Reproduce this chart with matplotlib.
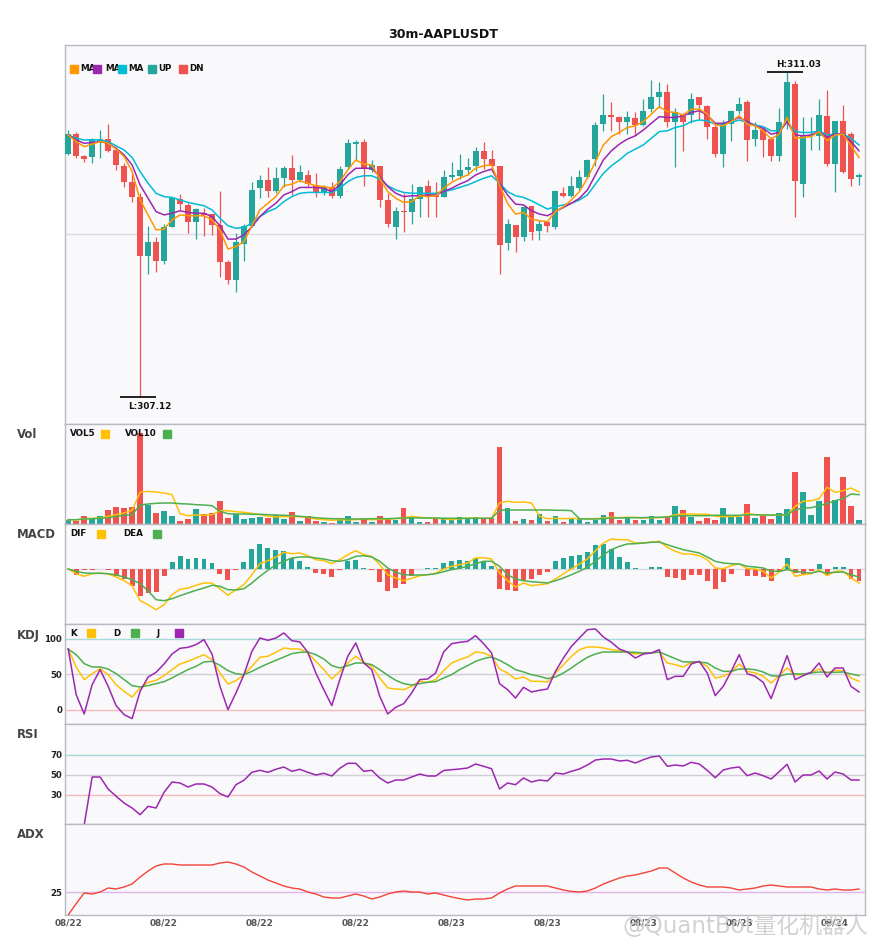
import numpy as np
import matplotlib.pyplot as plt
from matplotlib.transforms import Bbox, TransformedBbox

# ---- data (30m candles, 100 bars) ----
opens = [310.04, 310.28, 310.02, 310.01, 310.19, 310.22, 310.09, 309.90, 309.71, 309.53,
         308.82, 308.99, 308.76, 309.17, 309.50, 309.43, 309.23, 309.33, 309.32, 309.19,
         308.74, 308.53, 308.96, 309.18, 309.63, 309.73, 309.60, 309.75, 309.87, 309.73,
         309.79, 309.67, 309.59, 309.64, 309.54, 309.88, 310.16, 310.19, 309.85, 309.90,
         309.49, 309.17, 309.36, 309.34, 309.50, 309.66, 309.55, 309.53, 309.77, 309.78,
         309.85, 309.90, 310.08, 309.98, 309.90, 308.97, 309.19, 309.05, 309.42, 309.12,
         309.22, 309.17, 309.57, 309.54, 309.63, 309.76, 309.98, 310.40, 310.51, 310.49,
         310.42, 310.47, 310.39, 310.58, 310.72, 310.79, 310.42, 310.51, 310.51, 310.72,
         310.62, 310.36, 310.04, 310.40, 310.56, 310.66, 310.22, 310.34, 310.22, 310.02,
         310.42, 310.88, 309.68, 310.26, 310.26, 310.50, 309.92, 310.44, 310.28, 309.76]
highs = [310.33, 310.30, 310.03, 310.23, 310.33, 310.40, 310.12, 309.93, 309.81, 309.57,
         309.18, 309.05, 309.20, 309.52, 309.56, 309.45, 309.39, 309.39, 309.32, 309.60,
         308.77, 309.09, 309.20, 309.71, 309.79, 309.88, 309.88, 309.90, 310.03, 309.91,
         309.85, 309.81, 309.67, 309.70, 309.90, 310.22, 310.21, 310.22, 309.97, 309.90,
         309.57, 309.41, 309.57, 309.68, 309.66, 309.73, 309.70, 309.85, 309.94, 310.04,
         309.99, 310.12, 310.18, 310.09, 309.90, 309.26, 309.19, 309.42, 309.42, 309.25,
         309.23, 309.61, 309.65, 309.78, 309.85, 309.98, 310.42, 310.76, 310.66, 310.50,
         310.56, 310.54, 310.70, 310.93, 310.91, 310.88, 310.59, 310.53, 310.77, 310.73,
         310.63, 310.39, 310.45, 310.57, 310.72, 310.69, 310.42, 310.37, 310.25, 310.59,
         311.03, 310.92, 310.49, 310.48, 310.70, 310.81, 310.44, 310.63, 310.31, 309.81]
lows = [310.03, 309.99, 309.95, 309.93, 309.99, 310.07, 309.85, 309.65, 309.47, 307.12,
        308.60, 308.62, 308.72, 309.16, 309.37, 309.09, 309.02, 309.06, 309.07, 308.56,
        308.48, 308.39, 308.76, 309.17, 309.51, 309.53, 309.57, 309.65, 309.55, 309.71,
        309.65, 309.52, 309.55, 309.51, 309.51, 309.86, 309.97, 309.66, 309.82, 309.40,
        309.16, 309.02, 309.10, 309.20, 309.29, 309.29, 309.29, 309.52, 309.73, 309.74,
        309.79, 309.84, 309.86, 309.88, 308.60, 308.89, 308.87, 309.00, 309.01, 309.01,
        309.10, 309.14, 309.52, 309.52, 309.61, 309.75, 309.90, 310.32, 310.32, 310.28,
        310.28, 310.27, 310.38, 310.54, 310.59, 310.36, 309.88, 310.08, 310.41, 310.45,
        310.22, 310.00, 309.88, 310.20, 310.52, 309.96, 310.14, 310.00, 309.96, 309.96,
        310.34, 309.29, 309.53, 310.09, 310.09, 309.90, 309.59, 309.81, 309.66, 309.67]
closes = [310.28, 310.02, 309.98, 310.22, 310.22, 310.08, 309.91, 309.71, 309.53, 308.82,
          308.99, 308.76, 309.17, 309.51, 309.44, 309.23, 309.38, 309.31, 309.19, 308.74,
          308.53, 308.99, 309.18, 309.61, 309.73, 309.60, 309.75, 309.87, 309.73, 309.83,
          309.68, 309.58, 309.65, 309.54, 309.86, 310.17, 310.18, 309.87, 309.91, 309.49,
          309.20, 309.36, 309.34, 309.50, 309.65, 309.54, 309.53, 309.77, 309.79, 309.85,
          309.89, 310.08, 309.98, 309.90, 308.95, 309.20, 309.04, 309.41, 309.11, 309.20,
          309.18, 309.60, 309.54, 309.66, 309.77, 309.97, 310.39, 310.51, 310.49, 310.42,
          310.49, 310.39, 310.56, 310.72, 310.79, 310.42, 310.54, 310.43, 310.70, 310.63,
          310.37, 310.04, 310.40, 310.56, 310.64, 310.21, 310.33, 310.21, 310.02, 310.42,
          310.90, 309.72, 310.26, 310.27, 310.51, 309.92, 310.44, 309.82, 309.74, 309.79]

ma5 = [310.27, 310.19, 310.13, 310.16, 310.19, 310.17, 310.10, 310.01, 309.83, 309.49,
       309.31, 309.13, 309.14, 309.25, 309.31, 309.30, 309.30, 309.30, 309.25, 309.13,
       308.90, 308.93, 308.99, 309.18, 309.37, 309.45, 309.53, 309.66, 309.68, 309.72,
       309.69, 309.66, 309.65, 309.63, 309.71, 309.85, 309.97, 309.92, 309.91, 309.75,
       309.59, 309.51, 309.46, 309.47, 309.54, 309.53, 309.54, 309.63, 309.70, 309.75,
       309.79, 309.87, 309.90, 309.91, 309.67, 309.45, 309.32, 309.34, 309.26, 309.24,
       309.23, 309.35, 309.41, 309.49, 309.59, 309.75, 309.95, 310.15, 310.25, 310.30,
       310.36, 310.38, 310.43, 310.52, 310.61, 310.55, 310.54, 310.51, 310.58, 310.58,
       310.52, 310.39, 310.38, 310.43, 310.50, 310.40, 310.38, 310.32, 310.22, 310.28,
       310.48, 310.23, 310.24, 310.25, 310.31, 310.20, 310.27, 310.28, 310.14, 310.00]
ma10 = [310.27, 310.21, 310.17, 310.18, 310.19, 310.17, 310.11, 310.03, 309.91, 309.67,
        309.51, 309.35, 309.31, 309.33, 309.36, 309.34, 309.33, 309.33, 309.29, 309.18,
        309.02, 309.02, 309.07, 309.17, 309.29, 309.38, 309.45, 309.55, 309.59, 309.64,
        309.64, 309.64, 309.63, 309.59, 309.67, 309.79, 309.87, 309.87, 309.87, 309.77,
        309.65, 309.57, 309.53, 309.54, 309.54, 309.55, 309.55, 309.59, 309.63, 309.68,
        309.72, 309.79, 309.83, 309.86, 309.69, 309.55, 309.44, 309.43, 309.36, 309.32,
        309.30, 309.35, 309.40, 309.45, 309.51, 309.61, 309.79, 309.97, 310.08, 310.16,
        310.22, 310.26, 310.33, 310.41, 310.49, 310.48, 310.48, 310.50, 310.54, 310.56,
        310.51, 310.41, 310.41, 310.44, 310.48, 310.43, 310.38, 310.35, 310.28, 310.30,
        310.43, 310.27, 310.26, 310.27, 310.31, 310.24, 310.28, 310.28, 310.19, 310.08]
ma20 = [310.27, 310.23, 310.21, 310.21, 310.21, 310.19, 310.14, 310.09, 310.00, 309.83,
        309.69, 309.57, 309.53, 309.52, 309.49, 309.46, 309.44, 309.42, 309.37, 309.27,
        309.18, 309.15, 309.16, 309.21, 309.29, 309.35, 309.39, 309.47, 309.53, 309.57,
        309.58, 309.58, 309.58, 309.58, 309.63, 309.71, 309.76, 309.78, 309.78, 309.74,
        309.66, 309.61, 309.58, 309.57, 309.57, 309.57, 309.57, 309.59, 309.61, 309.64,
        309.67, 309.71, 309.75, 309.78, 309.69, 309.59, 309.54, 309.52, 309.48, 309.43,
        309.38, 309.41, 309.43, 309.45, 309.49, 309.55, 309.68, 309.81, 309.90, 309.97,
        310.05, 310.10, 310.15, 310.23, 310.31, 310.32, 310.36, 310.38, 310.43, 310.45,
        310.44, 310.40, 310.40, 310.42, 310.45, 310.42, 310.39, 310.37, 310.32, 310.32,
        310.43, 310.31, 310.30, 310.30, 310.32, 310.27, 310.28, 310.28, 310.23, 310.15]

volume = [4.3, 3.3, 8.3, 5.0, 8.3, 14.3, 17.3, 16.3, 17.3, 91.0,
          19.3, 11.3, 13.3, 8.3, 3.3, 5.3, 15.3, 10.3, 11.3, 23.3,
          6.3, 10.3, 5.3, 6.3, 7.3, 6.3, 8.7, 5.3, 12.3, 3.3,
          8.3, 3.3, 2.3, 1.3, 4.3, 8.3, 2.3, 6.3, 2.3, 8.3,
          6.3, 4.3, 16.3, 7.3, 2.3, 2.3, 6.3, 5.3, 3.7, 7.3,
          5.0, 7.3, 5.0, 5.7, 77.3, 16.3, 3.3, 5.3, 4.3, 10.3,
          3.3, 8.3, 2.3, 5.3, 5.3, 2.3, 4.3, 9.3, 12.3, 4.3,
          7.3, 4.3, 4.3, 8.3, 4.3, 8.3, 18.3, 14.3, 7.3, 3.3,
          6.3, 4.3, 16.3, 7.3, 7.3, 20.3, 6.3, 8.3, 5.3, 11.3,
          15.3, 52.3, 32.3, 9.3, 23.3, 67.3, 24.3, 47.3, 18.3, 4.3]
vol5 = [4.3, 4.0, 5.0, 5.7, 6.0, 7.7, 9.3, 11.0, 13.7, 31.7,
        32.7, 32.0, 31.0, 29.3, 10.3, 8.3, 9.0, 8.7, 9.3, 13.3,
        13.3, 12.3, 11.7, 10.7, 9.3, 7.7, 7.0, 7.3, 7.7, 7.3,
        6.7, 5.0, 4.3, 3.7, 4.3, 4.0, 4.3, 5.0, 4.3, 4.7,
        5.0, 5.3, 6.0, 7.7, 6.7, 6.0, 5.7, 5.2, 4.3, 5.3,
        5.7, 6.0, 5.7, 5.7, 21.0, 22.7, 21.7, 22.0, 21.0, 7.7,
        5.3, 5.7, 5.3, 5.7, 5.3, 5.3, 5.3, 6.0, 6.7, 6.3,
        6.7, 6.7, 6.0, 6.3, 6.3, 7.0, 9.3, 10.0, 10.0, 9.7,
        9.7, 7.7, 7.3, 7.7, 7.7, 10.7, 9.3, 8.7, 8.7, 9.0,
        9.3, 17.7, 22.7, 23.3, 25.3, 36.7, 31.7, 33.3, 36.0, 32.0]
vol10 = [4.3, 4.3, 5.0, 5.3, 5.7, 6.3, 7.7, 8.7, 9.3, 19.0,
         20.0, 20.7, 21.0, 21.0, 20.3, 20.0, 19.3, 19.0, 18.3, 12.7,
         10.3, 10.0, 10.0, 9.7, 9.7, 9.3, 9.0, 8.7, 8.3, 7.7,
         7.0, 6.3, 5.7, 5.3, 5.3, 5.0, 5.0, 5.0, 5.3, 5.3,
         5.3, 5.7, 6.0, 6.0, 6.0, 6.0, 6.0, 5.8, 5.7, 5.7,
         5.7, 5.7, 5.7, 5.7, 13.7, 14.0, 14.0, 14.0, 14.0, 14.0,
         14.0, 13.7, 13.7, 13.3, 5.3, 5.0, 5.0, 5.3, 6.0, 6.0,
         6.3, 6.3, 6.3, 6.7, 6.7, 7.0, 8.0, 8.3, 8.3, 8.3,
         8.3, 8.7, 8.7, 8.7, 8.7, 9.3, 9.3, 9.0, 9.0, 9.0,
         9.3, 14.3, 16.0, 16.3, 18.3, 20.3, 23.3, 25.3, 30.0, 29.3]

dif = [0, -4.7, -7.3, -4.7, -4.0, -5.0, -8.0, -11.7, -16.7, -31.7,
       -35.7, -40.7, -35.7, -25.7, -20.3, -19.0, -16.3, -14.0, -14.0, -19.7,
       -26.3, -20.7, -15.7, -5.7, 5.3, 8.3, 12.0, 16.7, 15.3, 16.0,
       13.3, 9.3, 8.3, 5.3, 9.3, 14.3, 18.3, 14.3, 12.7, 4.3,
       -5.7, -9.0, -11.7, -9.3, -6.7, -5.7, -4.3, 0.0, 2.7, 4.3,
       6.0, 11.0, 11.3, 10.0, -4.0, -11.7, -18.0, -14.0, -16.7, -15.7,
       -14.7, -10.0, -4.7, 0.0, 5.0, 10.0, 18.3, 26.0, 30.0, 29.3,
       29.3, 26.0, 26.0, 27.0, 27.7, 21.7, 17.7, 15.0, 15.0, 13.3,
       9.3, 1.0, 0.3, 3.3, 5.3, 0.3, 0.0, -2.3, -9.0, -3.0,
       5.0, -7.3, -5.7, -4.7, -0.7, -6.7, -2.3, -2.3, -9.0, -14.0]
dea = [0, -2.3, -4.0, -4.3, -4.3, -4.7, -6.0, -8.0, -10.7, -14.7,
       -21.7, -30.7, -31.7, -29.7, -26.7, -24.0, -21.3, -19.0, -16.3, -17.3,
       -20.7, -21.0, -19.7, -14.0, -7.3, -1.3, 4.3, 7.7, 11.0, 12.0,
       12.0, 11.0, 10.0, 8.3, 7.7, 9.3, 12.7, 13.3, 12.0, 7.7,
       1.0, -3.3, -5.7, -6.0, -6.0, -5.7, -4.7, -2.7, -0.7, 1.0,
       2.7, 5.3, 7.7, 7.7, 2.7, -5.7, -10.0, -11.7, -12.7, -13.3,
       -14.0, -11.7, -9.0, -5.7, -2.3, 1.7, 7.7, 14.3, 19.3, 22.7,
       25.0, 25.3, 26.0, 26.7, 27.0, 24.3, 21.7, 19.3, 17.7, 16.0,
       12.0, 7.7, 6.0, 5.3, 5.0, 2.7, 2.0, 1.0, -2.3, -2.3,
       -0.7, -2.3, -3.3, -4.0, -2.3, -4.0, -3.3, -3.0, -5.7, -8.0]
macd_hist = [0, -5.7, -1.0, -1.3, 0, -1.3, -6.7, -10.0, -16.7, -27.3,
             -24.0, -22.7, -7.3, 7.3, 13.3, 10.3, 11.3, 10.3, 6.3, -4.7,
             -11.3, -1.3, 7.3, 20.3, 25.3, 21.3, 19.3, 18.3, 11.3, 8.3,
             2.3, -3.7, -4.7, -7.7, -0.7, 8.3, 9.3, 1.3, -1.3, -12.7,
             -21.7, -18.7, -14.7, -7.3, 0, 1.3, 1.3, 6.3, 8.3, 9.3,
             8.3, 11.3, 8.3, 3.3, -19.7, -20.7, -21.7, -10.7, -9.7, -5.7,
             -2.7, 8.3, 11.3, 13.3, 14.3, 17.3, 24.3, 25.3, 20.3, 12.3,
             7.3, 1.3, 0, 2.3, 2.3, -7.7, -8.7, -10.7, -5.7, -5.7,
             -11.7, -19.7, -12.7, -4.7, 0, -6.7, -6.7, -7.7, -11.7, -2.7,
             11.3, -3.7, -4.7, -1.7, 5.3, -5.7, 2.3, 2.3, -9.7, -11.7]

k_line = [85.8, 60.4, 42.5, 50.9, 58.0, 49.5, 35.4, 25.9, 17.9, 30.7,
          38.7, 41.5, 48.1, 56.6, 64.6, 68.4, 73.1, 77.8, 70.8, 51.9,
          36.3, 41.0, 49.5, 61.3, 74.1, 75.5, 81.1, 87.3, 85.8, 85.8,
          80.2, 68.4, 56.6, 43.4, 54.2, 66.0, 75.5, 67.0, 61.3, 44.8,
          30.7, 29.2, 28.3, 33.0, 40.1, 38.7, 42.5, 55.2, 66.0, 70.8,
          74.5, 81.6, 80.2, 75.5, 57.5, 51.9, 43.4, 46.2, 40.1, 40.1,
          39.2, 51.9, 63.7, 75.5, 84.9, 88.7, 88.7, 87.3, 84.9, 83.5,
          81.1, 78.8, 80.2, 80.2, 81.6, 66.0, 63.7, 60.4, 67.0, 67.5,
          61.3, 44.8, 47.2, 52.8, 64.6, 54.2, 51.9, 47.2, 37.7, 48.1,
          59.0, 49.5, 49.5, 51.9, 57.5, 51.9, 55.7, 55.2, 44.8, 40.1]
d_line = [85.8, 77.8, 65.1, 60.4, 60.4, 57.5, 50.9, 42.5, 34.0, 32.1,
          34.0, 36.8, 39.6, 44.8, 50.9, 56.6, 61.3, 67.5, 68.4, 62.7,
          55.2, 50.9, 49.5, 54.2, 59.9, 65.1, 69.8, 74.5, 79.2, 81.1,
          81.6, 77.8, 71.7, 62.3, 59.0, 62.3, 66.0, 66.0, 63.7, 56.6,
          48.6, 41.5, 36.8, 34.9, 36.8, 38.7, 39.6, 44.8, 49.5, 56.6,
          62.3, 68.4, 72.2, 74.5, 69.8, 63.7, 56.6, 53.3, 49.5, 47.2,
          43.9, 46.2, 51.9, 59.0, 67.0, 74.1, 78.8, 81.6, 81.6, 81.6,
          81.6, 81.1, 80.2, 80.2, 81.6, 76.9, 72.2, 67.5, 67.5, 67.5,
          66.0, 59.0, 54.2, 54.2, 57.5, 57.5, 56.6, 53.3, 48.1, 47.2,
          50.5, 50.5, 50.5, 51.9, 53.3, 52.8, 52.8, 53.3, 50.5, 48.1]
j_line = [85.8, 21.2, -6.1, 35.4, 56.6, 33.0, 5.7, -7.1, -12.7, 25.9,
          46.2, 52.8, 64.6, 78.8, 86.8, 88.2, 92.0, 99.1, 78.8, 33.0,
          0.0, 23.6, 49.5, 82.5, 101.4, 98.1, 101.4, 108.5, 97.6, 95.8,
          81.1, 51.9, 28.3, 5.7, 42.5, 75.5, 94.3, 66.0, 56.6, 18.9,
          -6.1, 3.3, 8.5, 23.6, 42.5, 43.4, 51.9, 81.6, 93.4, 95.3,
          96.7, 104.7, 93.4, 80.2, 36.8, 28.3, 16.5, 31.6, 25.0, 27.4,
          29.2, 54.2, 73.1, 89.6, 101.4, 113.2, 114.2, 102.8, 95.3, 85.8,
          81.6, 73.1, 78.8, 80.2, 84.9, 42.5, 47.2, 47.2, 64.6, 68.4,
          51.9, 19.8, 33.0, 54.2, 77.8, 50.9, 47.2, 38.7, 15.6, 46.2,
          76.4, 42.5, 48.1, 52.8, 66.0, 46.2, 59.0, 59.0, 33.0, 25.0]

rsi = [np.nan, np.nan, 0.0, 48.0, 48.0, 36.0, 28.7, 22.0, 17.0, 10.3,
       18.7, 17.0, 32.7, 43.0, 42.0, 38.0, 41.0, 41.0, 38.0, 31.3,
       28.0, 40.3, 44.7, 52.7, 54.7, 52.7, 55.7, 58.0, 53.7, 55.7,
       52.7, 50.0, 51.7, 49.0, 56.7, 61.7, 61.7, 53.7, 54.7, 47.0,
       42.0, 45.0, 45.0, 48.0, 51.0, 49.0, 49.0, 54.5, 55.3, 56.0,
       57.0, 61.0, 58.7, 56.3, 36.0, 42.0, 40.3, 47.0, 43.0, 45.0,
       44.0, 52.0, 51.0, 53.7, 56.0, 60.0, 65.0, 66.0, 66.0, 64.0,
       64.7, 62.0, 65.3, 68.0, 69.0, 58.7, 60.0, 59.0, 62.7, 61.0,
       54.7, 47.3, 55.0, 57.0, 58.0, 49.3, 52.0, 49.3, 46.0, 53.3,
       60.7, 43.0, 50.0, 50.0, 54.0, 46.0, 53.0, 51.0, 45.0, 45.0]

adx = [13.5, 19.2, 24.5, 24.0, 25.0, 27.0, 26.5, 27.5, 29.0, 32.5,
       35.5, 38.0, 39.0, 39.0, 38.5, 38.5, 38.5, 38.5, 38.5, 39.5,
       40.0, 39.0, 37.5, 35.0, 33.0, 31.0, 29.5, 28.0, 27.0, 26.5,
       25.0, 24.0, 22.5, 22.0, 22.0, 23.0, 24.0, 23.0, 21.5, 22.5,
       24.0, 25.0, 25.5, 25.0, 25.0, 24.0, 24.5, 23.5, 22.5, 21.7,
       21.0, 21.5, 21.5, 22.0, 24.5, 26.5, 28.0, 28.0, 28.0, 28.0,
       28.0, 27.0, 26.0, 25.3, 25.0, 25.5, 27.0, 29.0, 30.5, 32.0,
       33.0, 33.5, 34.5, 35.5, 37.0, 37.0, 34.5, 32.0, 30.0, 28.5,
       27.5, 27.5, 27.5, 27.0, 26.0, 26.5, 27.0, 28.0, 28.5, 28.0,
       27.5, 27.5, 27.5, 27.5, 26.5, 26.0, 26.5, 26.0, 26.0, 26.5]

tick_idx = [0, 12, 24, 36, 48, 60, 72, 84, 96]
tick_labels = ['08/22', '08/22', '08/22', '08/22', '08/23', '08/23', '08/23', '08/23', '08/24']

# ---- style ----
UP, DN = '#26a69a', '#ef5350'
BG = '#f9f9fc'
SPINE = '#b9b9c2'
C_MA5, C_MA10, C_MA20 = '#ff9800', '#9c27b0', '#00bcd4'
YEL, GRN, PUR = '#ffc107', '#4caf50', '#9c27b0'

plt.rcParams['font.family'] = ['DejaVu Sans', 'Noto Sans CJK SC']

o = np.array(opens); h = np.array(highs); l = np.array(lows); c = np.array(closes)
x = np.arange(len(c))
up = c >= o
cols = np.where(up, UP, DN)

fig = plt.figure(figsize=(8.85, 9.5), dpi=100)
W, H = 885.0, 950.0
left, width = 65 / W, 800 / W
bounds = [(45, 424), (424, 524), (524, 624), (624, 724), (724, 824), (824, 915)]
axes = []
for top, bot in bounds:
    ax = fig.add_axes([left, 1 - bot / H, width, (bot - top) / H])
    ax.set_facecolor(BG)
    for s in ax.spines.values():
        s.set_color(SPINE)
        s.set_linewidth(1.0)
    ax.set_xlim(-0.4, 99.75)
    ax.set_xticks([])
    ax.tick_params(axis='y', length=0, pad=2, labelsize=6.2, labelcolor='#222222')
    axes.append(ax)
ax_p, ax_v, ax_m, ax_k, ax_r, ax_a = axes

SQ_HALF = 0.0046   # half a legend square, in axes width fraction
VISIBLE = 0.0195   # the MA labels only show their first two letters


def legend(ax, items, yfrac, clip=False):
    for n, (label, tx, color, sx) in enumerate(items):
        t = ax.text(tx, yfrac, label, transform=ax.transAxes, fontsize=6.3, fontweight='bold',
                    va='center', ha='left', color='#111111', zorder=5)
        if clip and n + 1 < len(items):
            stop = min(items[n + 1][3] - SQ_HALF, tx + VISIBLE)
            t.set_clip_box(TransformedBbox(Bbox([[tx - 0.01, yfrac - 0.05],
                                                 [stop, yfrac + 0.05]]), ax.transAxes))
            t.set_clip_on(True)
        ax.plot([sx], [yfrac], marker='s', ms=5.3, color=color, transform=ax.transAxes,
                clip_on=False, zorder=6, linestyle='none')


# ---- price panel ----
ax_p.set_ylim(306.80, 311.35)
ax_p.set_yticks([])
ax_p.axhline(sum(ax_p.get_ylim()) / 2, color='#dcdce3', lw=1.0, zorder=0)
ax_p.vlines(x, l, h, colors=cols, lw=0.9, zorder=2)
body = np.maximum(np.abs(c - o), 0.008)
ax_p.bar(x, body, bottom=np.minimum(o, c), width=0.75, color=cols, zorder=3)
ax_p.plot(x, ma20, color=C_MA20, lw=1.1, zorder=4)
ax_p.plot(x, ma10, color=C_MA10, lw=1.1, zorder=4)
ax_p.plot(x, ma5, color=C_MA5, lw=1.1, zorder=4)
legend(ax_p, [('MA5', 0.0196, C_MA5, 0.01125), ('MA10', 0.0504, C_MA10, 0.0404),
              ('MA20', 0.0796, C_MA20, 0.0713), ('UP', 0.117, UP, 0.10875),
              ('DN', 0.1554, DN, 0.1479)], 0.9367, clip=True)

hi_i = int(np.argmax(h)); lo_i = int(np.argmin(l))
ax_p.hlines(h[hi_i], hi_i - 2.5, hi_i + 2.0, color='#111111', lw=1.3, zorder=6)
ax_p.annotate(f'H:{h[hi_i]:.2f}', (hi_i + 1.4, h[hi_i]), xytext=(0, 5), textcoords='offset points',
              ha='center', va='center', fontsize=6.4, fontweight='bold', color='#111111')
ax_p.hlines(l[lo_i], lo_i - 2.5, lo_i + 2.0, color='#111111', lw=1.3, zorder=6)
ax_p.annotate(f'L:{l[lo_i]:.2f}', (lo_i + 1.2, l[lo_i]), xytext=(0, -6.5), textcoords='offset points',
              ha='center', va='center', fontsize=6.4, fontweight='bold', color='#111111')

# ---- volume ----
ax_v.set_ylim(0, 100)
ax_v.set_yticks([])
ax_v.bar(x, volume, width=0.7, color=cols, zorder=2)
ax_v.plot(x, vol5, color=YEL, lw=1.1, zorder=3)
ax_v.plot(x, vol10, color=GRN, lw=1.1, zorder=3)
legend(ax_v, [('VOL5', 0.00625, YEL, 0.0504), ('VOL10', 0.075, GRN, 0.1275)], 0.90)

# ---- MACD ----
ax_m.set_ylim(-55, 45)
ax_m.set_yticks([])
ax_m.axhline(0, color='#d9d9de', lw=1.0, zorder=0)
hist = np.array(macd_hist)
ax_m.bar(x, hist, width=0.62, color=np.where(hist >= 0, UP, DN), zorder=2)
ax_m.plot(x, dif, color=YEL, lw=1.1, zorder=3)
ax_m.plot(x, dea, color=GRN, lw=1.1, zorder=3)
legend(ax_m, [('DIF', 0.00625, YEL, 0.0454), ('DEA', 0.0729, GRN, 0.115)], 0.903)

# ---- KDJ ----
ax_k.set_ylim(-20.3, 121.2)
ax_k.set_yticks([0, 50, 100])
ax_k.axhline(100, color='#a6dad6', lw=1.0, zorder=0)
ax_k.axhline(50, color='#cfcfd4', lw=1.0, zorder=0)
ax_k.axhline(0, color='#f6b7b7', lw=1.0, zorder=0)
ax_k.plot(x, k_line, color=YEL, lw=1.1, zorder=3)
ax_k.plot(x, d_line, color=GRN, lw=1.1, zorder=3)
ax_k.plot(x, j_line, color=PUR, lw=1.1, zorder=3)
legend(ax_k, [('K', 0.0071, YEL, 0.0325), ('D', 0.0604, GRN, 0.0875),
              ('J', 0.1146, PUR, 0.1425)], 0.907)

# ---- RSI ----
ax_r.set_ylim(1, 101)
ax_r.set_yticks([30, 50, 70])
ax_r.axhline(70, color='#a6dad6', lw=1.0, zorder=0)
ax_r.axhline(50, color='#cfcfd4', lw=1.0, zorder=0)
ax_r.axhline(30, color='#f6b7b7', lw=1.0, zorder=0)
ax_r.plot(x, rsi, color=PUR, lw=1.1, zorder=3)

# ---- ADX ----
ax_a.set_ylim(13.5, 59)
ax_a.set_yticks([25])
ax_a.axhline(25, color='#e2b4ea', lw=1.0, zorder=0)
ax_a.plot(x, adx, color='#f44336', lw=1.0, zorder=3)
ax_a.set_xticks(tick_idx)
ax_a.set_xticklabels(tick_labels)
ax_a.tick_params(axis='x', length=0, pad=2.5, labelsize=6.4, labelcolor='#555555')
for ax in axes:
    for t in ax.get_xticklabels() + ax.get_yticklabels():
        t.set_fontweight('bold')

# ---- labels ----
for name, yc in [('Vol', 434.7), ('MACD', 534.7), ('KDJ', 635.0), ('RSI', 734.7), ('ADX', 834.7)]:
    fig.text(17.3 / W, 1 - yc / H, name, fontsize=8.4, fontweight='bold', color='#444444',
             ha='left', va='center')
fig.text(0.5006, 1 - 34 / H, '30m-AAPLUSDT', fontsize=9.1, fontweight='bold', ha='center',
         va='center', color='#111111')

fig.text(622 / W, 1 - 926 / H, '@QuantBot量化机器人', fontsize=16.5, color='#cdcdcd',
         alpha=0.9, ha='left', va='center', family=['DejaVu Sans', 'Noto Sans CJK SC'], zorder=10)

fig.savefig('out.png', dpi=100, facecolor='white')
